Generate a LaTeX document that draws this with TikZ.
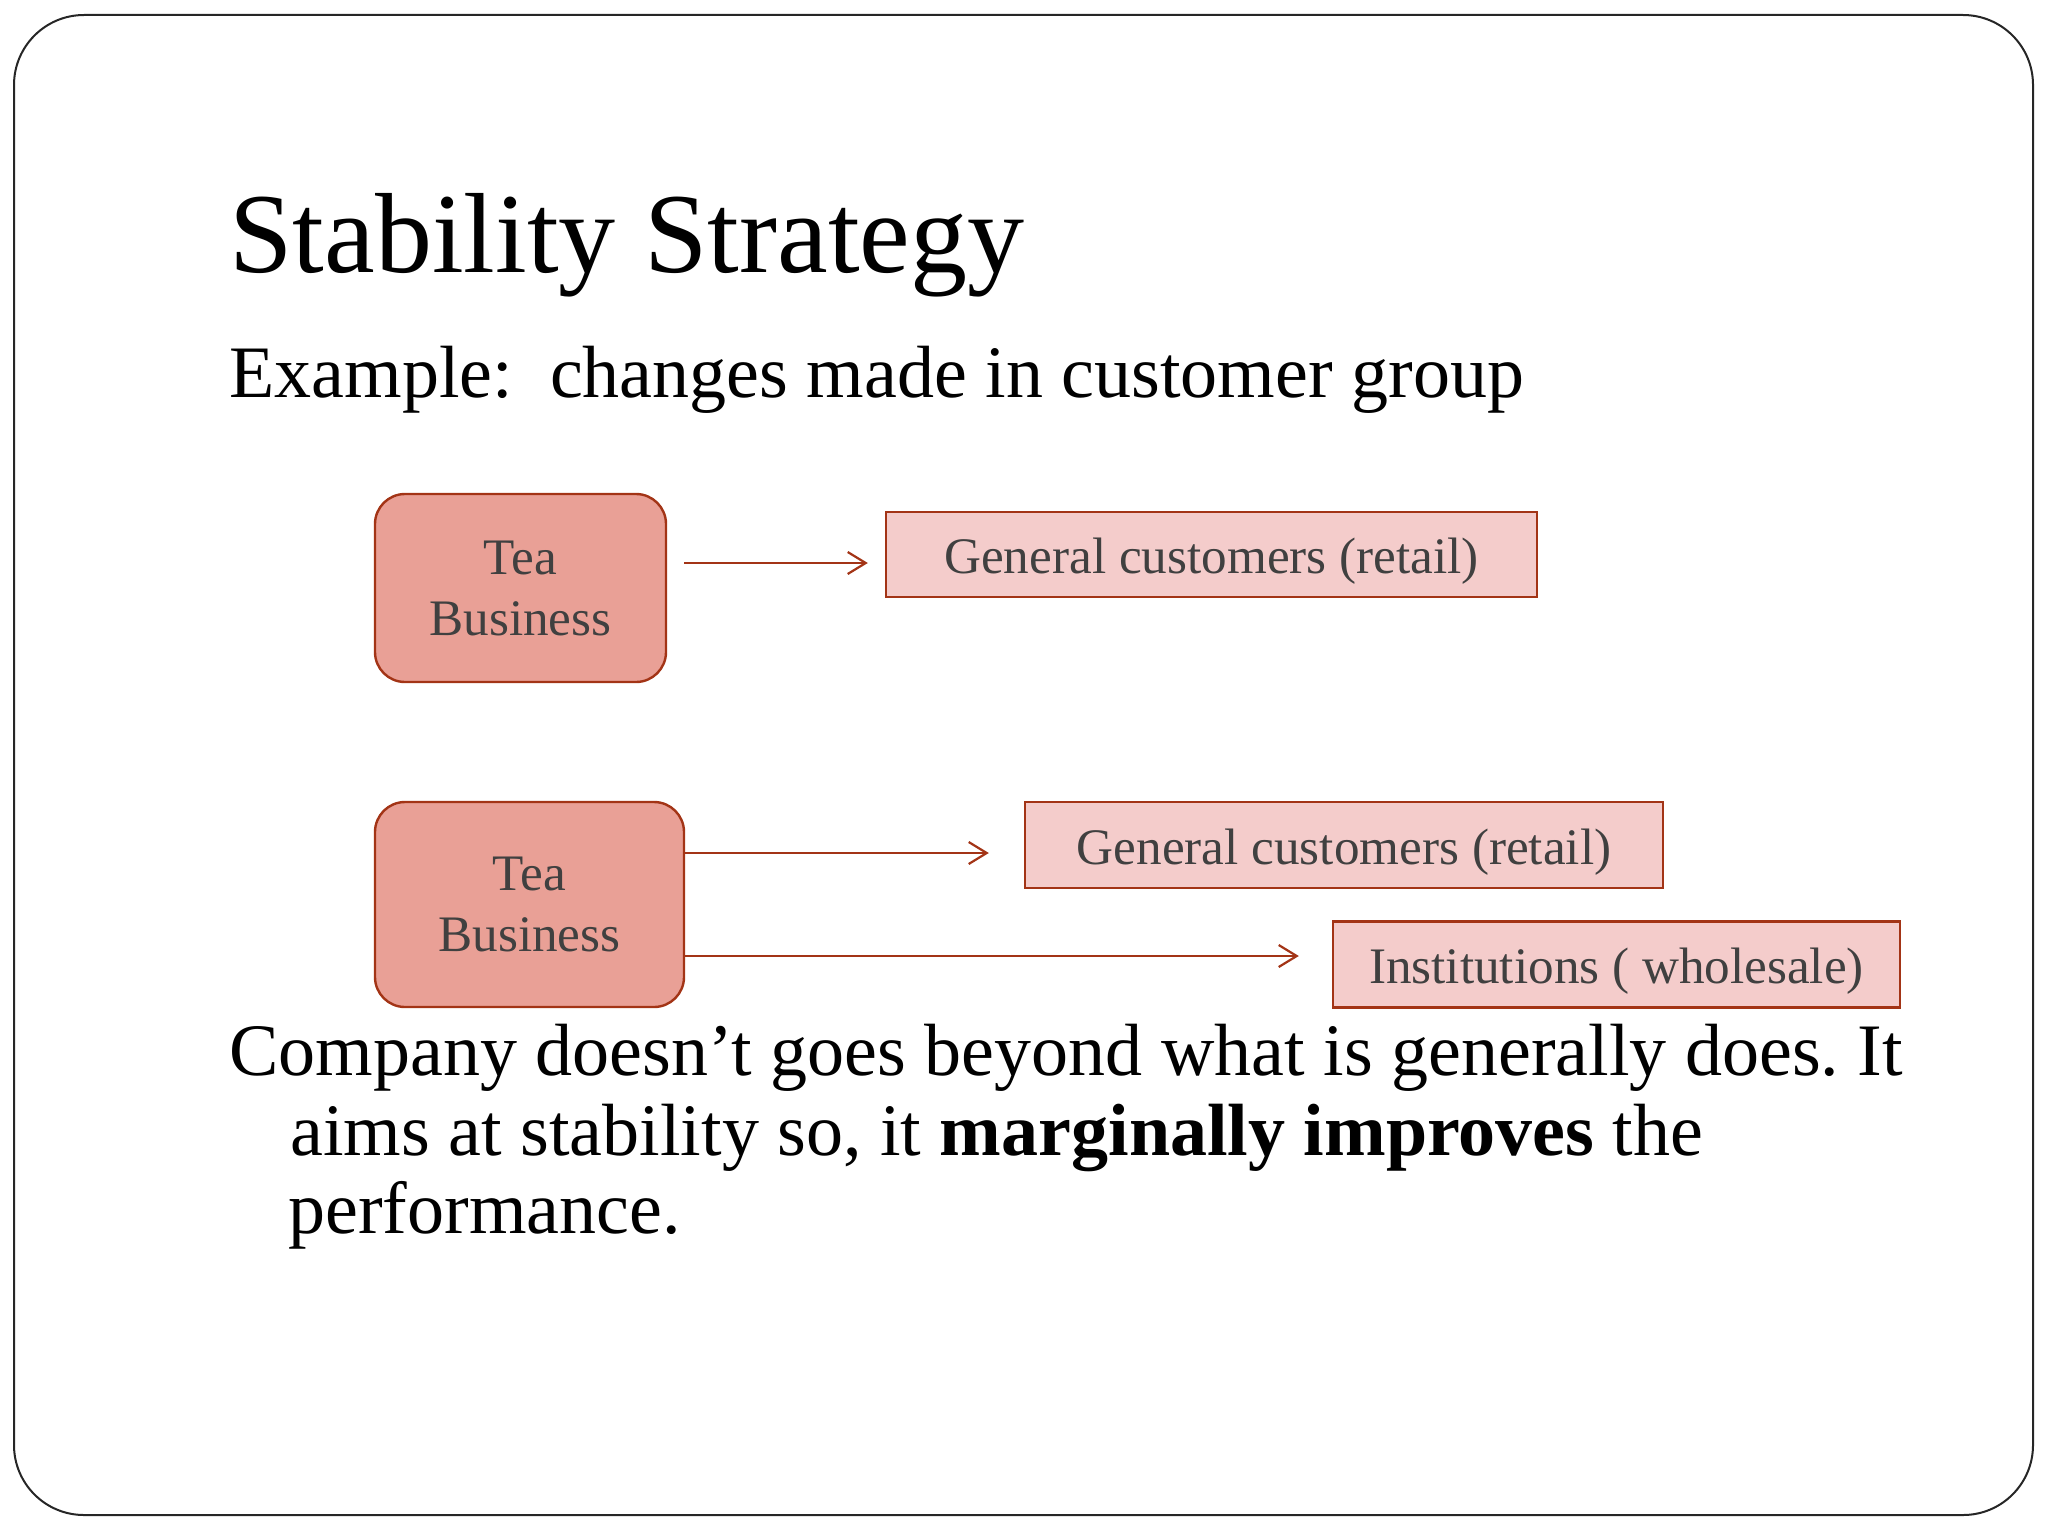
\documentclass[tikz,border=0pt]{standalone}
\usepackage{fontspec}
\setmainfont{Liberation Serif}
\usetikzlibrary{arrows.meta}

\definecolor{rustline}{RGB}{163,52,22}
\definecolor{salmonfill}{RGB}{233,160,150}
\definecolor{pinkfill}{RGB}{244,204,203}
\definecolor{boxtext}{RGB}{64,64,64}

\frenchspacing

\begin{document}
\begin{tikzpicture}[
    x=0.5pt,
    y=-0.5pt,
    frame/.style={
        draw=black!85,
        line width=1pt,
        rounded corners=35pt
    },
    teabox/.style={
        rectangle,
        draw=rustline,
        line width=1.2pt,
        fill=salmonfill,
        rounded corners=15pt,
        align=center,
        inner sep=0pt,
        text=boxtext,
        font=\fontsize{25.6}{30.5}\selectfont
    },
    groupbox/.style={
        rectangle,
        draw=rustline,
        line width=1.2pt,
        fill=pinkfill,
        inner sep=0pt,
        minimum height=43pt,
        text height=24pt,
        text depth=5pt,
        text=boxtext,
        font=\fontsize{25.6}{30.5}\selectfont
    },
    link/.style={
        draw=rustline,
        line width=1.1pt,
        -{Straight Barb[length=9pt,width=11pt,line width=1.1pt]}
    },
    heading/.style={
        anchor=base west,
        inner sep=0pt
    }
]
\useasboundingbox (0,0) rectangle (2048,1536);

% Slide frame
\draw [frame] (14,15) rectangle (2033,1515);

% Title and intro
\node [heading, font=\fontsize{57}{68}\selectfont] (title) at (229,272) {Stability Strategy};
\node [heading, font=\fontsize{37}{40}\selectfont] (example) at (229,397) {Example:\ \ changes made in customer group};

% Before: one customer group
\node [teabox, minimum width=145.5pt, minimum height=94pt] (tea1) at (520.5,588) {Tea\\Business};
\node [groupbox, minimum width=325.5pt, minimum height=42.5pt] (retail1) at (1211.5,554.5) {General customers (retail)};

% After: two customer groups
\node [teabox, minimum width=154.5pt, minimum height=102.5pt] (tea2) at (529.5,904.5) {Tea\\Business};
\node [groupbox, minimum width=319pt] (retail2) at (1344,845) {General customers (retail)};
\node [groupbox, minimum width=283.5pt] (wholesale) at (1616.5,964.5) {Institutions ( wholesale)};

% Arrows
\draw [link, shorten <=8.5pt, shorten >=8.5pt] (tea1.east |- 0,563) -- (retail1.west |- 0,563);
\draw [link, shorten >=17.5pt] (tea2.east |- 0,853) -- (retail2.west |- 0,853);
\draw [link, shorten >=16.5pt] (tea2.east |- 0,956) -- (wholesale.west |- 0,956);

% Closing remark
\node [heading, font=\fontsize{37}{40}\selectfont] (body1) at (229,1075) {Company doesn’t goes beyond what is generally does. It};
\node [heading, font=\fontsize{37}{40}\selectfont] (body2) at (290,1155) {aims at stability so, it \textbf{marginally improves} the};
\node [heading, font=\fontsize{37}{40}\selectfont] (body3) at (288,1233) {performance.};

\end{tikzpicture}
\end{document}
